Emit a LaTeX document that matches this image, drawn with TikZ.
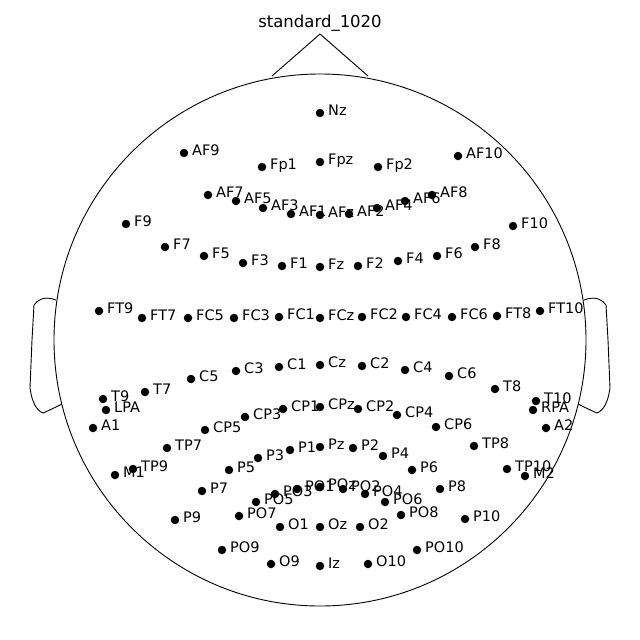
\documentclass[tikz,border=0pt]{standalone}
\usepackage{fontspec}
\setmainfont{DejaVu Sans}
\begin{document}
\begin{tikzpicture}[x=1pt,y=-1pt,
  dot/.style={circle,fill=black,inner sep=0pt,minimum size=8.5pt},
  lbl/.style={anchor=base west,inner sep=0pt,font=\fontsize{14.5}{16}\selectfont},
  outline/.style={draw=black,line width=0.9pt}]
\useasboundingbox (0,0) rectangle (640,640);
\node[anchor=base,font=\fontsize{16.5}{18}\selectfont] (title) at (320,27) {standard\_1020};
\draw[outline] (320,340) circle (266);
\draw[outline] (272,76) -- (320,34) -- (368,76);
\draw[outline] (56,300) .. controls (48,297) and (40,297) .. (34,305) -- (32,340) -- (30,388) .. controls (32,402) and (36,410) .. (43,413) .. controls (50,410) and (56,407) .. (62,404);
\draw[outline] (584,300) .. controls (592,297) and (600,297) .. (606,305) -- (608,340) -- (610,388) .. controls (608,402) and (604,410) .. (597,413) .. controls (590,410) and (584,407) .. (578,404);
\foreach \n/\x/\y in {Nz/320/113,AF9/184/153,Fp1/262/167,Fpz/320/162,Fp2/378/167,AF10/458/156,
AF7/208/195,AF5/236/201,AF3/263/208,AF1/291/214,AFz/320/215,AF2/349/214,AF4/377/208,AF6/405/201,AF8/432/195,
F9/126/224,F10/513/226,
F7/165/247,F5/204/256,F3/243/263,F1/282/266,Fz/320/267,F2/358/266,F4/398/261,F6/437/256,F8/475/247,
FT9/99/311,FT7/142/318,FC5/188/318,FC3/234/318,FC1/279/317,FCz/320/318,FC2/362/317,FC4/406/317,FC6/452/317,FT8/497/316,FT10/540/311,
C5/191/379,C3/236/371,C1/279/367,Cz/320/365,C2/362/366,C4/405/370,C6/449/376,
T7/145/392,T8/495/389,T9/103/399,LPA/106/410,A1/93/428,T10/536/401,RPA/533/410,A2/546/428,
CP5/205/430,CP3/245/417,CP1/283/409,CPz/320/407,CP2/358/409,CP4/397/415,CP6/436/427,
TP7/167/448,TP8/474/446,
P5/229/470,P3/258/458,P1/290/450,Pz/320/447,P2/353/448,P4/383/456,P6/412/470,
M1/115/475,TP9/133/469,TP10/507/469,M2/525/476,
P7/202/491,P8/440/489,PO5/256/502,PO3/275/494,PO1/297/489,POz/320/487,PO2/343/489,PO4/365/494,PO6/385/502,
P9/175/520,PO7/239/516,O1/280/527,Oz/320/527,O2/360/527,PO8/401/515,P10/465/519,
PO9/222/550,O9/271/564,Iz/320/566,O10/368/564,PO10/417/550}
{
  \node[dot] (\n) at (\x,\y) {};
  \node[lbl] (\n-l) at ([xshift=8pt,yshift=-2pt]\n.center) {\n};
}
\end{tikzpicture}
\end{document}
